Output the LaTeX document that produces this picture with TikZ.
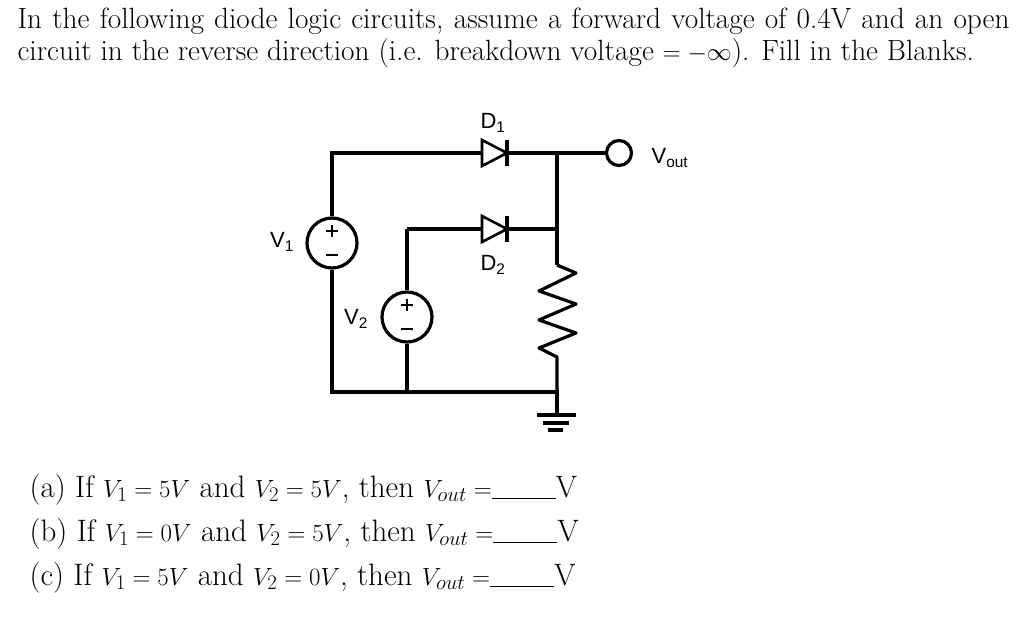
\documentclass[tikz,border=0pt]{standalone}
\usepackage{fontspec}
\newfontfamily\arialf{Liberation Sans}
\begin{document}
\begin{tikzpicture}[x=1pt,y=-1pt,line width=3.2pt,
  lab/.style={font=\arialf\fontsize{22}{24}\selectfont,inner sep=0pt},
  txt/.style={font=\fontsize{29.3}{31}\selectfont,inner sep=0pt,anchor=west},
  qtxt/.style={font=\fontsize{31}{31}\selectfont,inner sep=0pt,anchor=base west},
  src/.style={circle,draw,minimum size=50pt,inner sep=0pt}]
\useasboundingbox (0,0) rectangle (1024,623);
\node[txt,anchor=base west] (h1) at (16,29) {\makebox[992pt][s]{In the following diode logic circuits, assume a forward voltage of 0.4V and an open}};
\node[txt,anchor=base west] (h2) at (16,61) {circuit in the reverse direction (i.e. breakdown voltage $=-\infty$). Fill in the Blanks.};
% nodes
\coordinate (tl) at (332,153);
\coordinate (bl) at (332,392);
\coordinate (j1) at (557,153);
\coordinate (j2) at (557,229);
\coordinate (v2t) at (407,229);
\coordinate (v2b) at (407,392);
\coordinate (rt) at (557,265);
\coordinate (rb) at (557,357);
\coordinate (g) at (557,392);
\coordinate (gt) at (557,415);
\node[src] (V1) at (332,243) {};
\node[src] (V2) at (407,317) {};
\node[circle,draw,minimum size=25pt,inner sep=0pt] (out) at (619,153) {};
\foreach \s in {V1,V2}{
  \draw[line width=2.6pt] (\s.center) ++(-6,-12) -- ++(12,0) ++(-6,-6) -- ++(0,12);
  \draw[line width=2.6pt] (\s.center) ++(-6,12) -- ++(12,0);
}
% diodes
\foreach \y/\n in {153/D1,229/D2}{
  \draw[line width=2.6pt] (482,\y-13) -- (507,\y) -- (482,\y+13) -- cycle;
  \draw (507,\y-13) -- (507,\y+13);
}
\draw (V1.north) -- (tl) -- (482,153);
\draw (507,153) -- (j1) -- (out.west);
\draw (v2t) -- (482,229);
\draw (507,229) -- (j2);
\draw (V2.north) -- (v2t);
\draw (j1) -- (rt);
\draw[line join=round] (rt) -- (576,273) -- (539,291) -- (576,304) -- (539,320) -- (576,333) -- (539,348) -- (rb) -- (g);
\draw (V1.south) -- (bl) -- (g) -- (gt);
\draw (V2.south) -- (v2b);
\draw (537,415) -- (576,415);
\draw (543,423) -- (569,423);
\draw (548,430) -- (563,430);
\node[lab] (d1) at (493,123) {D\textsubscript{1}};
\node[lab] (d2) at (493,265) {D\textsubscript{2}};
\node[lab] (l1) at (282,242) {V\textsubscript{1}};
\node[lab] (l2) at (356,319) {V\textsubscript{2}};
\node[lab,anchor=west] (lo) at (650,158) {V\textsubscript{out}};
\node[qtxt] (qa) at (28,497) {(a) If $V_1=5V$ and $V_2=5V$, then $V_{out}=$\underline{\hspace{64pt}}V};
\node[qtxt] (qb) at (28,541) {(b) If $V_1=0V$ and $V_2=5V$, then $V_{out}=$\underline{\hspace{64pt}}V};
\node[qtxt] (qc) at (28,585) {(c) If $V_1=5V$ and $V_2=0V$, then $V_{out}=$\underline{\hspace{64pt}}V};
\end{tikzpicture}
\end{document}
